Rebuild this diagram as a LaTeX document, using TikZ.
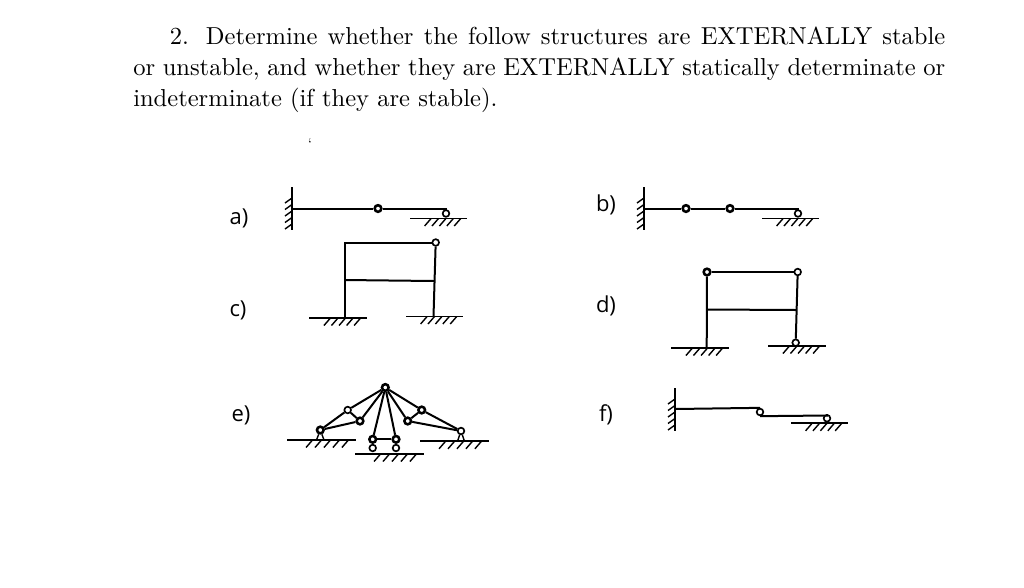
\documentclass[tikz,border=0pt]{standalone}
\usepackage{fontspec}
\newfontfamily\labelfont{Open Sans}
\newfontfamily\taskfont{lmroman10-regular}[Extension=.otf]
\tikzset{
    member/.style={line width=1.5pt, black},
    floor/.style={line width=1.4pt, black},
    hatch/.style={line width=1.05pt, black},
    hinge/.style={circle, draw=black, fill=white, line width=1.25pt, inner sep=0pt, minimum size=5pt},
    hingefull/.style={hinge, line width=1.9pt, minimum size=5pt},
    caselabel/.style={font=\labelfont\fontsize{16.5}{20}\selectfont, inner sep=0pt}
}
% ground line from x=#1 to x=#2 at height #3
\newcommand{\groundline}[3]{
    \draw[floor] (#1,#3) -- (#2,#3);
    \foreach \i in {0,...,4} {
        \pgfmathsetmacro{\hx}{#1 + (#2-#1)*(0.37 + 0.13*\i)}
        \draw[hatch] (\hx,#3) -- (\hx-6.5,#3+7.5);
    }
}
% wall at x=#1 from y=#2 to y=#3
\newcommand{\wallline}[3]{
    \draw[member] (#1,#2) -- (#1,#3);
    \foreach \i in {0,...,4} {
        \pgfmathsetmacro{\hy}{#2 + 11 + 6.5*\i}
        \draw[hatch] (#1,\hy) -- (#1-7,\hy+5);
    }
}
\begin{document}
\begin{tikzpicture}[x=0.75pt, y=-0.75pt]
    \useasboundingbox (0,0) rectangle (1024,587);

    \node[anchor=north west, inner sep=0pt, text width=609pt, align=justify,
        font=\taskfont\fontsize{18.4}{23.25}\selectfont] (task) at (133,27)
        {\hspace*{27.5pt}2. Determine whether the follow structures are EXTERNALLY stable or unstable, and whether they are EXTERNALLY statically determinate or indeterminate (if they are stable).};
    \node[inner sep=0pt, font=\fontsize{12}{12}\selectfont] (tick) at (310,144) {`};

    \node[caselabel] (la) at (239,218) {a)};
    \node[caselabel] (lb) at (606,205) {b)};
    \node[caselabel] (lc) at (238,310) {c)};
    \node[caselabel] (ld) at (606,306) {d)};
    \node[caselabel] (le) at (241,415) {e)};
    \node[caselabel] (lf) at (606,415) {f)};

    % a)
    \wallline{292}{187}{230}
    \groundline{410}{467}{218.5}
    \coordinate (a0) at (292,208.5);
    \coordinate (a2) at (446,208.5);
    \node[hingefull] (a1) at (378,208.5) {};
    \node[hinge] (a3) at (446,213.5) {};
    \draw[member] (a0) -- (a1);
    \draw[member] (a1) -- (a2) -- (a3);

    % b)
    \wallline{644}{187}{230}
    \groundline{762}{819}{218.5}
    \coordinate (b0) at (644,208.5);
    \coordinate (b3) at (798,208.5);
    \node[hingefull] (b1) at (686,208.5) {};
    \node[hingefull] (b2) at (730,208.5) {};
    \node[hinge] (b4) at (798,213.5) {};
    \draw[member] (b0) -- (b1);
    \draw[member] (b1) -- (b2);
    \draw[member] (b2) -- (b3) -- (b4);

    % c)
    \groundline{309}{367}{318}
    \groundline{406}{463}{316.5}
    \coordinate (c0) at (345,318);
    \coordinate (c1) at (345,242.5);
    \coordinate (c3) at (433.5,316.5);
    \coordinate (c4) at (345,280);
    \coordinate (c5) at (434,281);
    \node[hinge] (c2) at (435.7,242.5) {};
    \draw[member] (c0) -- (c1) -- (c2);
    \draw[member] (c2) -- (c3);
    \draw[member] (c4) -- (c5);

    % d)
    \groundline{671}{729}{348}
    \groundline{768}{826}{346}
    \coordinate (d0) at (706.7,348);
    \coordinate (d4) at (706.7,309.5);
    \coordinate (d5) at (796.5,310);
    \node[hingefull] (d1) at (707,272) {};
    \node[hinge] (d2) at (797.7,272) {};
    \node[hinge] (d3) at (795.7,342.7) {};
    \draw[member] (d0) -- (d1);
    \draw[member] (d1) -- (d2);
    \draw[member] (d2) -- (d3);
    \draw[member] (d4) -- (d5);

    % e)
    \groundline{287}{356}{440}
    \groundline{420}{489}{441.3}
    \groundline{355}{424}{454}
    \coordinate (el) at (316.5,440);
    \coordinate (em) at (324,440);
    \coordinate (er) at (457.5,441.3);
    \coordinate (es) at (464.5,441.3);
    \node[hingefull] (top) at (385.3,387.5) {};
    \node[hinge] (e1) at (347.7,410) {};
    \node[hingefull] (e2) at (360,421) {};
    \node[hingefull] (e3) at (320.3,430) {};
    \node[hingefull] (e4) at (421.7,410) {};
    \node[hingefull] (e5) at (407.7,421) {};
    \node[hinge] (e6) at (461,431) {};
    \node[hingefull] (e7) at (372.7,439.3) {};
    \node[hingefull] (e8) at (396,439.3) {};
    \node[hinge] (e9) at (372.7,448) {};
    \node[hinge] (e10) at (396,448) {};
    \foreach \u/\v in {top/e1, e1/e3, top/e2, e2/e3, e1/e2, top/e4, e4/e6, top/e5, e5/e6, e4/e5, top/e7, top/e8, e7/e8, e7/e9, e8/e10} {
        \draw[member] (\u) -- (\v);
    }
    \draw[hatch] (el) -- (e3) -- (em);
    \draw[hatch] (er) -- (e6) -- (es);

    % f)
    \wallline{675}{388}{431}
    \groundline{791}{848}{423.3}
    \coordinate (f0) at (675,409);
    \coordinate (f3) at (827,415.5);
    \node[hinge] (f1) at (760,412) {};
    \node[hinge] (f2) at (827,418.3) {};
    \draw[member] (f0) -- (f1.north);
    \draw[member] (f1.south) -- (f3) -- (f2);
\end{tikzpicture}
\end{document}
